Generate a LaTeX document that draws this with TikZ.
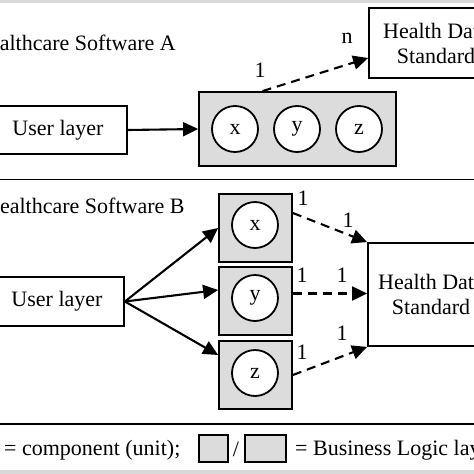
\documentclass[tikz,border=0pt]{standalone}
\usepackage{fontspec}
\setmainfont{Liberation Serif}
\usetikzlibrary{shapes,arrows.meta}
\definecolor{fillcolour}{HTML}{DCDCDC}
\definecolor{bandcolour}{HTML}{D9D9D9}

\begin{document}
\begin{tikzpicture}[x=1pt,y=-1pt,
  every node/.style={font=\fontsize{22}{25}\selectfont,inner sep=0pt},
  box/.style={draw,line width=1.8pt,align=center},
  logicbox/.style={box,fill=fillcolour},
  unit/.style={draw,line width=1.8pt,circle,fill=white,minimum size=46pt},
  link/.style={line width=2.1pt,-{Triangle[length=15pt,width=14pt]}},
  dlink/.style={link,dash pattern=on 9pt off 6pt}]
\useasboundingbox (0,0) rectangle (474,474);
\clip (0,0) rectangle (474,474);
% Page bands and separators
\fill[bandcolour] (0,0) rectangle (474,2.5);
\fill[bandcolour] (0,470) rectangle (474,474);
\draw[line width=1.8pt] (0,179.5) -- (474,179.5);
\draw[line width=1.8pt] (0,424) -- (474,424);

% Healthcare Software A
\node[anchor=base west] (titleA) at (-26,50) {Healthcare Software A};
\node[box,minimum width=138pt,minimum height=48pt] (userA) at (58,130) {User layer};
\node[logicbox,minimum width=197pt,minimum height=74pt] (logicA) at (297.5,129) {};
\node[unit] (xA) at (235,129) {x};
\node[unit] (yA) at (297,129) {y};
\node[unit] (zA) at (359,129) {z};
\node[box,minimum width=134pt,minimum height=70pt] (healthA) at (436,43) {Health Data\\Standard};
\draw[link] (userA.east) -- (logicA.west);
\draw[dlink] ([xshift=-35pt]logicA.north) -- ([yshift=-15pt]healthA.west);
\node (oneA) at (260,70) {1};
\node (nA) at (347,38) {n};

% Healthcare Software B
\node[anchor=base west] (titleB) at (-16,213) {Healthcare Software B};
\node[box,minimum width=134pt,minimum height=49pt] (userB) at (57,301.5) {User layer};
\node[logicbox,minimum width=73pt,minimum height=68pt] (logicBx) at (255.5,228) {};
\node[logicbox,minimum width=73pt,minimum height=68pt] (logicBy) at (255.5,301) {};
\node[logicbox,minimum width=73pt,minimum height=68pt] (logicBz) at (255.5,375) {};
\node[unit] (xB) at (255,225) {x};
\node[unit] (yB) at (255,298) {y};
\node[unit] (zB) at (255,373) {z};
\node[box,minimum width=126pt,minimum height=103pt] (healthB) at (431,294.5) {Health Data\\Standard};
\draw[link] (userB.east) -- (logicBx.west);
\draw[link] (userB.east) -- ([yshift=11pt]logicBy.west);
\draw[link] (userB.east) -- ([yshift=20pt]logicBz.west);
\draw[dlink] ([yshift=15pt]logicBx.east) -- (healthB.north west);
\draw[dlink] ([yshift=7.5pt]logicBy.east) -- ([yshift=1pt]healthB.west);
\draw[dlink] (logicBz.east) -- (healthB.south west);
\node (oneBx) at (303,198) {1};
\node (twoBx) at (348,220) {1};
\node (oneBy) at (302,275) {1};
\node (twoBy) at (342,275) {1};
\node (oneBz) at (302,352) {1};
\node (twoBz) at (342,333) {1};

% Legend
\node[anchor=base west] (legunit) at (4,455) {= component (unit);};
\node[logicbox,minimum width=29pt,minimum height=27pt] (legsquare) at (213.5,448.5) {};
\node (legslash) at (236,449) {/};
\node[logicbox,minimum width=41pt,minimum height=27pt] (legrect) at (265.5,448.5) {};
\node[anchor=base west] (leglayer) at (295,455) {= Business Logic layer};
\end{tikzpicture}
\end{document}
